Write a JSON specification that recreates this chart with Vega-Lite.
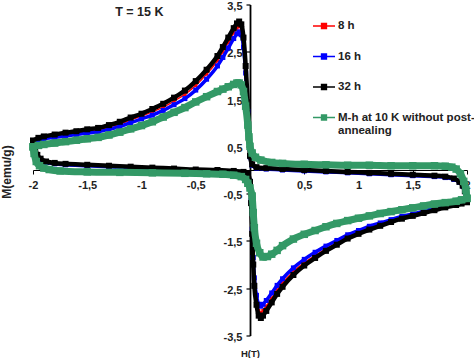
{
"$schema": "https://vega.github.io/schema/vega-lite/v6.json",
"width": 434, "height": 331,
"autosize": {"type": "none"},
"padding": {"left": 33, "top": 4.5, "right": 7, "bottom": 22.5},
"config": {"view": {"stroke": null}, "font": "Liberation Sans"},
"datasets": {
"note": [{"h": -1.02, "m": 3.34, "t": "T = 15 K"}],
"loops": [
{"s":"8 h","b":"d","h":-2,"m":0.6},{"s":"8 h","b":"d","h":-1.95,"m":0.65},{"s":"8 h","b":"d","h":-1.9,"m":0.68},{"s":"8 h","b":"d","h":-1.8,"m":0.72},{"s":"8 h","b":"d","h":-1.7,"m":0.76},{"s":"8 h","b":"d","h":-1.6,"m":0.79},{"s":"8 h","b":"d","h":-1.5,"m":0.82},{"s":"8 h","b":"d","h":-1.4,"m":0.85},{"s":"8 h","b":"d","h":-1.3,"m":0.91},{"s":"8 h","b":"d","h":-1.2,"m":0.97},{"s":"8 h","b":"d","h":-1.1,"m":1.06},{"s":"8 h","b":"d","h":-1,"m":1.14},{"s":"8 h","b":"d","h":-0.9,"m":1.23},{"s":"8 h","b":"d","h":-0.8,"m":1.33},{"s":"8 h","b":"d","h":-0.7,"m":1.46},{"s":"8 h","b":"d","h":-0.6,"m":1.6},{"s":"8 h","b":"d","h":-0.5,"m":1.79},{"s":"8 h","b":"d","h":-0.4,"m":2.03},{"s":"8 h","b":"d","h":-0.3,"m":2.31},{"s":"8 h","b":"d","h":-0.25,"m":2.5},{"s":"8 h","b":"d","h":-0.2,"m":2.7},{"s":"8 h","b":"d","h":-0.15,"m":2.9},{"s":"8 h","b":"d","h":-0.12,"m":3.0},{"s":"8 h","b":"d","h":-0.1,"m":3.04},{"s":"8 h","b":"d","h":-0.08,"m":2.98},{"s":"8 h","b":"d","h":-0.06,"m":2.71},{"s":"8 h","b":"d","h":-0.04,"m":2.13},{"s":"8 h","b":"d","h":-0.02,"m":1.3},{"s":"8 h","b":"d","h":-0.01,"m":0.72},{"s":"8 h","b":"d","h":0,"m":0.29},{"s":"8 h","b":"d","h":0.02,"m":0.11},{"s":"8 h","b":"d","h":0.06,"m":0.05},{"s":"8 h","b":"d","h":0.15,"m":0.03},{"s":"8 h","b":"d","h":0.3,"m":0.01},{"s":"8 h","b":"d","h":0.5,"m":-0.01},{"s":"8 h","b":"d","h":0.7,"m":-0.03},{"s":"8 h","b":"d","h":0.9,"m":-0.05},{"s":"8 h","b":"d","h":1.1,"m":-0.07},{"s":"8 h","b":"d","h":1.3,"m":-0.09},{"s":"8 h","b":"d","h":1.5,"m":-0.11},{"s":"8 h","b":"d","h":1.7,"m":-0.13},{"s":"8 h","b":"d","h":1.8,"m":-0.15},{"s":"8 h","b":"d","h":1.88,"m":-0.19},{"s":"8 h","b":"d","h":1.93,"m":-0.25},{"s":"8 h","b":"d","h":1.96,"m":-0.33},{"s":"8 h","b":"d","h":1.98,"m":-0.45},{"s":"8 h","b":"d","h":2,"m":-0.65},
{"s":"8 h","b":"u","h":-2,"m":0.6},{"s":"8 h","b":"u","h":-1.98,"m":0.43},{"s":"8 h","b":"u","h":-1.96,"m":0.31},{"s":"8 h","b":"u","h":-1.93,"m":0.23},{"s":"8 h","b":"u","h":-1.88,"m":0.17},{"s":"8 h","b":"u","h":-1.8,"m":0.14},{"s":"8 h","b":"u","h":-1.7,"m":0.12},{"s":"8 h","b":"u","h":-1.5,"m":0.1},{"s":"8 h","b":"u","h":-1.3,"m":0.08},{"s":"8 h","b":"u","h":-1.1,"m":0.06},{"s":"8 h","b":"u","h":-0.9,"m":0.04},{"s":"8 h","b":"u","h":-0.7,"m":0.02},{"s":"8 h","b":"u","h":-0.5,"m":0.0},{"s":"8 h","b":"u","h":-0.3,"m":-0.01},{"s":"8 h","b":"u","h":-0.15,"m":-0.03},{"s":"8 h","b":"u","h":-0.06,"m":-0.05},{"s":"8 h","b":"u","h":-0.02,"m":-0.09},{"s":"8 h","b":"u","h":0,"m":-0.25},{"s":"8 h","b":"u","h":0.01,"m":-0.68},{"s":"8 h","b":"u","h":0.02,"m":-1.3},{"s":"8 h","b":"u","h":0.03,"m":-1.93},{"s":"8 h","b":"u","h":0.04,"m":-2.37},{"s":"8 h","b":"u","h":0.06,"m":-2.76},{"s":"8 h","b":"u","h":0.08,"m":-2.97},{"s":"8 h","b":"u","h":0.1,"m":-3.02},{"s":"8 h","b":"u","h":0.12,"m":-2.97},{"s":"8 h","b":"u","h":0.15,"m":-2.88},{"s":"8 h","b":"u","h":0.2,"m":-2.71},{"s":"8 h","b":"u","h":0.25,"m":-2.54},{"s":"8 h","b":"u","h":0.3,"m":-2.39},{"s":"8 h","b":"u","h":0.4,"m":-2.15},{"s":"8 h","b":"u","h":0.5,"m":-1.96},{"s":"8 h","b":"u","h":0.6,"m":-1.81},{"s":"8 h","b":"u","h":0.7,"m":-1.67},{"s":"8 h","b":"u","h":0.8,"m":-1.54},{"s":"8 h","b":"u","h":0.9,"m":-1.41},{"s":"8 h","b":"u","h":1,"m":-1.32},{"s":"8 h","b":"u","h":1.1,"m":-1.23},{"s":"8 h","b":"u","h":1.2,"m":-1.15},{"s":"8 h","b":"u","h":1.3,"m":-1.08},{"s":"8 h","b":"u","h":1.4,"m":-1.01},{"s":"8 h","b":"u","h":1.5,"m":-0.95},{"s":"8 h","b":"u","h":1.6,"m":-0.89},{"s":"8 h","b":"u","h":1.7,"m":-0.83},{"s":"8 h","b":"u","h":1.8,"m":-0.78},{"s":"8 h","b":"u","h":1.9,"m":-0.73},{"s":"8 h","b":"u","h":1.95,"m":-0.7},{"s":"8 h","b":"u","h":2,"m":-0.65},
{"s":"16 h","b":"d","h":-2,"m":0.58},{"s":"16 h","b":"d","h":-1.95,"m":0.63},{"s":"16 h","b":"d","h":-1.9,"m":0.66},{"s":"16 h","b":"d","h":-1.8,"m":0.69},{"s":"16 h","b":"d","h":-1.7,"m":0.72},{"s":"16 h","b":"d","h":-1.6,"m":0.75},{"s":"16 h","b":"d","h":-1.5,"m":0.78},{"s":"16 h","b":"d","h":-1.4,"m":0.81},{"s":"16 h","b":"d","h":-1.3,"m":0.86},{"s":"16 h","b":"d","h":-1.2,"m":0.92},{"s":"16 h","b":"d","h":-1.1,"m":1.0},{"s":"16 h","b":"d","h":-1,"m":1.08},{"s":"16 h","b":"d","h":-0.9,"m":1.16},{"s":"16 h","b":"d","h":-0.8,"m":1.26},{"s":"16 h","b":"d","h":-0.7,"m":1.38},{"s":"16 h","b":"d","h":-0.6,"m":1.51},{"s":"16 h","b":"d","h":-0.5,"m":1.69},{"s":"16 h","b":"d","h":-0.4,"m":1.92},{"s":"16 h","b":"d","h":-0.3,"m":2.2},{"s":"16 h","b":"d","h":-0.25,"m":2.38},{"s":"16 h","b":"d","h":-0.2,"m":2.58},{"s":"16 h","b":"d","h":-0.15,"m":2.78},{"s":"16 h","b":"d","h":-0.12,"m":2.88},{"s":"16 h","b":"d","h":-0.1,"m":2.92},{"s":"16 h","b":"d","h":-0.08,"m":2.86},{"s":"16 h","b":"d","h":-0.06,"m":2.6},{"s":"16 h","b":"d","h":-0.04,"m":2.05},{"s":"16 h","b":"d","h":-0.02,"m":1.25},{"s":"16 h","b":"d","h":-0.01,"m":0.7},{"s":"16 h","b":"d","h":0,"m":0.28},{"s":"16 h","b":"d","h":0.02,"m":0.1},{"s":"16 h","b":"d","h":0.06,"m":0.04},{"s":"16 h","b":"d","h":0.15,"m":0.02},{"s":"16 h","b":"d","h":0.3,"m":0.0},{"s":"16 h","b":"d","h":0.5,"m":-0.02},{"s":"16 h","b":"d","h":0.7,"m":-0.04},{"s":"16 h","b":"d","h":0.9,"m":-0.06},{"s":"16 h","b":"d","h":1.1,"m":-0.08},{"s":"16 h","b":"d","h":1.3,"m":-0.1},{"s":"16 h","b":"d","h":1.5,"m":-0.12},{"s":"16 h","b":"d","h":1.7,"m":-0.14},{"s":"16 h","b":"d","h":1.8,"m":-0.16},{"s":"16 h","b":"d","h":1.88,"m":-0.2},{"s":"16 h","b":"d","h":1.93,"m":-0.26},{"s":"16 h","b":"d","h":1.96,"m":-0.34},{"s":"16 h","b":"d","h":1.98,"m":-0.45},{"s":"16 h","b":"d","h":2,"m":-0.62},
{"s":"16 h","b":"u","h":-2,"m":0.58},{"s":"16 h","b":"u","h":-1.98,"m":0.42},{"s":"16 h","b":"u","h":-1.96,"m":0.3},{"s":"16 h","b":"u","h":-1.93,"m":0.22},{"s":"16 h","b":"u","h":-1.88,"m":0.16},{"s":"16 h","b":"u","h":-1.8,"m":0.13},{"s":"16 h","b":"u","h":-1.7,"m":0.11},{"s":"16 h","b":"u","h":-1.5,"m":0.09},{"s":"16 h","b":"u","h":-1.3,"m":0.07},{"s":"16 h","b":"u","h":-1.1,"m":0.05},{"s":"16 h","b":"u","h":-0.9,"m":0.03},{"s":"16 h","b":"u","h":-0.7,"m":0.01},{"s":"16 h","b":"u","h":-0.5,"m":-0.01},{"s":"16 h","b":"u","h":-0.3,"m":-0.02},{"s":"16 h","b":"u","h":-0.15,"m":-0.04},{"s":"16 h","b":"u","h":-0.06,"m":-0.06},{"s":"16 h","b":"u","h":-0.02,"m":-0.1},{"s":"16 h","b":"u","h":0,"m":-0.24},{"s":"16 h","b":"u","h":0.01,"m":-0.65},{"s":"16 h","b":"u","h":0.02,"m":-1.25},{"s":"16 h","b":"u","h":0.03,"m":-1.85},{"s":"16 h","b":"u","h":0.04,"m":-2.28},{"s":"16 h","b":"u","h":0.06,"m":-2.65},{"s":"16 h","b":"u","h":0.08,"m":-2.84},{"s":"16 h","b":"u","h":0.1,"m":-2.88},{"s":"16 h","b":"u","h":0.12,"m":-2.84},{"s":"16 h","b":"u","h":0.15,"m":-2.76},{"s":"16 h","b":"u","h":0.2,"m":-2.6},{"s":"16 h","b":"u","h":0.25,"m":-2.44},{"s":"16 h","b":"u","h":0.3,"m":-2.3},{"s":"16 h","b":"u","h":0.4,"m":-2.07},{"s":"16 h","b":"u","h":0.5,"m":-1.89},{"s":"16 h","b":"u","h":0.6,"m":-1.74},{"s":"16 h","b":"u","h":0.7,"m":-1.61},{"s":"16 h","b":"u","h":0.8,"m":-1.49},{"s":"16 h","b":"u","h":0.9,"m":-1.37},{"s":"16 h","b":"u","h":1,"m":-1.28},{"s":"16 h","b":"u","h":1.1,"m":-1.19},{"s":"16 h","b":"u","h":1.2,"m":-1.12},{"s":"16 h","b":"u","h":1.3,"m":-1.05},{"s":"16 h","b":"u","h":1.4,"m":-0.98},{"s":"16 h","b":"u","h":1.5,"m":-0.93},{"s":"16 h","b":"u","h":1.6,"m":-0.87},{"s":"16 h","b":"u","h":1.7,"m":-0.81},{"s":"16 h","b":"u","h":1.8,"m":-0.76},{"s":"16 h","b":"u","h":1.9,"m":-0.71},{"s":"16 h","b":"u","h":1.95,"m":-0.68},{"s":"16 h","b":"u","h":2,"m":-0.62},
{"s":"32 h","b":"d","h":-2,"m":0.62},{"s":"32 h","b":"d","h":-1.95,"m":0.68},{"s":"32 h","b":"d","h":-1.9,"m":0.71},{"s":"32 h","b":"d","h":-1.8,"m":0.75},{"s":"32 h","b":"d","h":-1.7,"m":0.79},{"s":"32 h","b":"d","h":-1.6,"m":0.82},{"s":"32 h","b":"d","h":-1.5,"m":0.86},{"s":"32 h","b":"d","h":-1.4,"m":0.89},{"s":"32 h","b":"d","h":-1.3,"m":0.95},{"s":"32 h","b":"d","h":-1.2,"m":1.02},{"s":"32 h","b":"d","h":-1.1,"m":1.11},{"s":"32 h","b":"d","h":-1,"m":1.19},{"s":"32 h","b":"d","h":-0.9,"m":1.29},{"s":"32 h","b":"d","h":-0.8,"m":1.4},{"s":"32 h","b":"d","h":-0.7,"m":1.53},{"s":"32 h","b":"d","h":-0.6,"m":1.68},{"s":"32 h","b":"d","h":-0.5,"m":1.88},{"s":"32 h","b":"d","h":-0.4,"m":2.12},{"s":"32 h","b":"d","h":-0.3,"m":2.41},{"s":"32 h","b":"d","h":-0.25,"m":2.6},{"s":"32 h","b":"d","h":-0.2,"m":2.8},{"s":"32 h","b":"d","h":-0.15,"m":3.0},{"s":"32 h","b":"d","h":-0.12,"m":3.1},{"s":"32 h","b":"d","h":-0.1,"m":3.14},{"s":"32 h","b":"d","h":-0.08,"m":3.08},{"s":"32 h","b":"d","h":-0.06,"m":2.8},{"s":"32 h","b":"d","h":-0.04,"m":2.2},{"s":"32 h","b":"d","h":-0.02,"m":1.35},{"s":"32 h","b":"d","h":-0.01,"m":0.75},{"s":"32 h","b":"d","h":0,"m":0.3},{"s":"32 h","b":"d","h":0.02,"m":0.12},{"s":"32 h","b":"d","h":0.06,"m":0.06},{"s":"32 h","b":"d","h":0.15,"m":0.04},{"s":"32 h","b":"d","h":0.3,"m":0.02},{"s":"32 h","b":"d","h":0.5,"m":0.0},{"s":"32 h","b":"d","h":0.7,"m":-0.02},{"s":"32 h","b":"d","h":0.9,"m":-0.04},{"s":"32 h","b":"d","h":1.1,"m":-0.06},{"s":"32 h","b":"d","h":1.3,"m":-0.08},{"s":"32 h","b":"d","h":1.5,"m":-0.1},{"s":"32 h","b":"d","h":1.7,"m":-0.12},{"s":"32 h","b":"d","h":1.8,"m":-0.14},{"s":"32 h","b":"d","h":1.88,"m":-0.18},{"s":"32 h","b":"d","h":1.93,"m":-0.25},{"s":"32 h","b":"d","h":1.96,"m":-0.33},{"s":"32 h","b":"d","h":1.98,"m":-0.45},{"s":"32 h","b":"d","h":2,"m":-0.68},
{"s":"32 h","b":"u","h":-2,"m":0.62},{"s":"32 h","b":"u","h":-1.98,"m":0.45},{"s":"32 h","b":"u","h":-1.96,"m":0.32},{"s":"32 h","b":"u","h":-1.93,"m":0.24},{"s":"32 h","b":"u","h":-1.88,"m":0.18},{"s":"32 h","b":"u","h":-1.8,"m":0.15},{"s":"32 h","b":"u","h":-1.7,"m":0.13},{"s":"32 h","b":"u","h":-1.5,"m":0.11},{"s":"32 h","b":"u","h":-1.3,"m":0.09},{"s":"32 h","b":"u","h":-1.1,"m":0.07},{"s":"32 h","b":"u","h":-0.9,"m":0.05},{"s":"32 h","b":"u","h":-0.7,"m":0.03},{"s":"32 h","b":"u","h":-0.5,"m":0.01},{"s":"32 h","b":"u","h":-0.3,"m":0.0},{"s":"32 h","b":"u","h":-0.15,"m":-0.02},{"s":"32 h","b":"u","h":-0.06,"m":-0.04},{"s":"32 h","b":"u","h":-0.02,"m":-0.08},{"s":"32 h","b":"u","h":0,"m":-0.25},{"s":"32 h","b":"u","h":0.01,"m":-0.7},{"s":"32 h","b":"u","h":0.02,"m":-1.35},{"s":"32 h","b":"u","h":0.03,"m":-2.0},{"s":"32 h","b":"u","h":0.04,"m":-2.45},{"s":"32 h","b":"u","h":0.06,"m":-2.85},{"s":"32 h","b":"u","h":0.08,"m":-3.08},{"s":"32 h","b":"u","h":0.1,"m":-3.13},{"s":"32 h","b":"u","h":0.12,"m":-3.08},{"s":"32 h","b":"u","h":0.15,"m":-2.98},{"s":"32 h","b":"u","h":0.2,"m":-2.8},{"s":"32 h","b":"u","h":0.25,"m":-2.62},{"s":"32 h","b":"u","h":0.3,"m":-2.47},{"s":"32 h","b":"u","h":0.4,"m":-2.22},{"s":"32 h","b":"u","h":0.5,"m":-2.02},{"s":"32 h","b":"u","h":0.6,"m":-1.86},{"s":"32 h","b":"u","h":0.7,"m":-1.71},{"s":"32 h","b":"u","h":0.8,"m":-1.58},{"s":"32 h","b":"u","h":0.9,"m":-1.45},{"s":"32 h","b":"u","h":1,"m":-1.35},{"s":"32 h","b":"u","h":1.1,"m":-1.26},{"s":"32 h","b":"u","h":1.2,"m":-1.18},{"s":"32 h","b":"u","h":1.3,"m":-1.1},{"s":"32 h","b":"u","h":1.4,"m":-1.03},{"s":"32 h","b":"u","h":1.5,"m":-0.97},{"s":"32 h","b":"u","h":1.6,"m":-0.91},{"s":"32 h","b":"u","h":1.7,"m":-0.85},{"s":"32 h","b":"u","h":1.8,"m":-0.79},{"s":"32 h","b":"u","h":1.9,"m":-0.74},{"s":"32 h","b":"u","h":1.95,"m":-0.71},{"s":"32 h","b":"u","h":2,"m":-0.68},
{"s":"M-h at 10 K without post-annealing","b":"d","h":-2,"m":0.49},{"s":"M-h at 10 K without post-annealing","b":"d","h":-1.95,"m":0.52},{"s":"M-h at 10 K without post-annealing","b":"d","h":-1.9,"m":0.54},{"s":"M-h at 10 K without post-annealing","b":"d","h":-1.8,"m":0.57},{"s":"M-h at 10 K without post-annealing","b":"d","h":-1.7,"m":0.6},{"s":"M-h at 10 K without post-annealing","b":"d","h":-1.6,"m":0.63},{"s":"M-h at 10 K without post-annealing","b":"d","h":-1.5,"m":0.66},{"s":"M-h at 10 K without post-annealing","b":"d","h":-1.4,"m":0.69},{"s":"M-h at 10 K without post-annealing","b":"d","h":-1.3,"m":0.74},{"s":"M-h at 10 K without post-annealing","b":"d","h":-1.2,"m":0.8},{"s":"M-h at 10 K without post-annealing","b":"d","h":-1.1,"m":0.87},{"s":"M-h at 10 K without post-annealing","b":"d","h":-1,"m":0.94},{"s":"M-h at 10 K without post-annealing","b":"d","h":-0.9,"m":1.02},{"s":"M-h at 10 K without post-annealing","b":"d","h":-0.8,"m":1.12},{"s":"M-h at 10 K without post-annealing","b":"d","h":-0.7,"m":1.22},{"s":"M-h at 10 K without post-annealing","b":"d","h":-0.6,"m":1.32},{"s":"M-h at 10 K without post-annealing","b":"d","h":-0.5,"m":1.44},{"s":"M-h at 10 K without post-annealing","b":"d","h":-0.4,"m":1.55},{"s":"M-h at 10 K without post-annealing","b":"d","h":-0.3,"m":1.66},{"s":"M-h at 10 K without post-annealing","b":"d","h":-0.25,"m":1.71},{"s":"M-h at 10 K without post-annealing","b":"d","h":-0.2,"m":1.76},{"s":"M-h at 10 K without post-annealing","b":"d","h":-0.15,"m":1.81},{"s":"M-h at 10 K without post-annealing","b":"d","h":-0.12,"m":1.84},{"s":"M-h at 10 K without post-annealing","b":"d","h":-0.1,"m":1.84},{"s":"M-h at 10 K without post-annealing","b":"d","h":-0.08,"m":1.8},{"s":"M-h at 10 K without post-annealing","b":"d","h":-0.06,"m":1.66},{"s":"M-h at 10 K without post-annealing","b":"d","h":-0.04,"m":1.35},{"s":"M-h at 10 K without post-annealing","b":"d","h":-0.02,"m":0.95},{"s":"M-h at 10 K without post-annealing","b":"d","h":-0.01,"m":0.7},{"s":"M-h at 10 K without post-annealing","b":"d","h":0,"m":0.5},{"s":"M-h at 10 K without post-annealing","b":"d","h":0.02,"m":0.36},{"s":"M-h at 10 K without post-annealing","b":"d","h":0.05,"m":0.27},{"s":"M-h at 10 K without post-annealing","b":"d","h":0.1,"m":0.21},{"s":"M-h at 10 K without post-annealing","b":"d","h":0.2,"m":0.16},{"s":"M-h at 10 K without post-annealing","b":"d","h":0.3,"m":0.14},{"s":"M-h at 10 K without post-annealing","b":"d","h":0.5,"m":0.12},{"s":"M-h at 10 K without post-annealing","b":"d","h":0.7,"m":0.11},{"s":"M-h at 10 K without post-annealing","b":"d","h":0.9,"m":0.1},{"s":"M-h at 10 K without post-annealing","b":"d","h":1.1,"m":0.1},{"s":"M-h at 10 K without post-annealing","b":"d","h":1.3,"m":0.09},{"s":"M-h at 10 K without post-annealing","b":"d","h":1.5,"m":0.09},{"s":"M-h at 10 K without post-annealing","b":"d","h":1.7,"m":0.09},{"s":"M-h at 10 K without post-annealing","b":"d","h":1.8,"m":0.08},{"s":"M-h at 10 K without post-annealing","b":"d","h":1.86,"m":0.06},{"s":"M-h at 10 K without post-annealing","b":"d","h":1.9,"m":0.02},{"s":"M-h at 10 K without post-annealing","b":"d","h":1.94,"m":-0.08},{"s":"M-h at 10 K without post-annealing","b":"d","h":1.97,"m":-0.24},{"s":"M-h at 10 K without post-annealing","b":"d","h":1.99,"m":-0.42},{"s":"M-h at 10 K without post-annealing","b":"d","h":2,"m":-0.6},
{"s":"M-h at 10 K without post-annealing","b":"u","h":-2,"m":0.49},{"s":"M-h at 10 K without post-annealing","b":"u","h":-1.99,"m":0.35},{"s":"M-h at 10 K without post-annealing","b":"u","h":-1.97,"m":0.18},{"s":"M-h at 10 K without post-annealing","b":"u","h":-1.94,"m":0.09},{"s":"M-h at 10 K without post-annealing","b":"u","h":-1.9,"m":0.04},{"s":"M-h at 10 K without post-annealing","b":"u","h":-1.85,"m":0.01},{"s":"M-h at 10 K without post-annealing","b":"u","h":-1.75,"m":-0.02},{"s":"M-h at 10 K without post-annealing","b":"u","h":-1.5,"m":-0.04},{"s":"M-h at 10 K without post-annealing","b":"u","h":-1.2,"m":-0.05},{"s":"M-h at 10 K without post-annealing","b":"u","h":-0.9,"m":-0.06},{"s":"M-h at 10 K without post-annealing","b":"u","h":-0.6,"m":-0.07},{"s":"M-h at 10 K without post-annealing","b":"u","h":-0.4,"m":-0.08},{"s":"M-h at 10 K without post-annealing","b":"u","h":-0.25,"m":-0.09},{"s":"M-h at 10 K without post-annealing","b":"u","h":-0.15,"m":-0.11},{"s":"M-h at 10 K without post-annealing","b":"u","h":-0.08,"m":-0.14},{"s":"M-h at 10 K without post-annealing","b":"u","h":-0.04,"m":-0.2},{"s":"M-h at 10 K without post-annealing","b":"u","h":-0.02,"m":-0.28},{"s":"M-h at 10 K without post-annealing","b":"u","h":0,"m":-0.38},{"s":"M-h at 10 K without post-annealing","b":"u","h":0.02,"m":-0.55},{"s":"M-h at 10 K without post-annealing","b":"u","h":0.03,"m":-0.9},{"s":"M-h at 10 K without post-annealing","b":"u","h":0.04,"m":-1.22},{"s":"M-h at 10 K without post-annealing","b":"u","h":0.06,"m":-1.55},{"s":"M-h at 10 K without post-annealing","b":"u","h":0.09,"m":-1.75},{"s":"M-h at 10 K without post-annealing","b":"u","h":0.12,"m":-1.84},{"s":"M-h at 10 K without post-annealing","b":"u","h":0.16,"m":-1.83},{"s":"M-h at 10 K without post-annealing","b":"u","h":0.2,"m":-1.78},{"s":"M-h at 10 K without post-annealing","b":"u","h":0.25,"m":-1.7},{"s":"M-h at 10 K without post-annealing","b":"u","h":0.3,"m":-1.6},{"s":"M-h at 10 K without post-annealing","b":"u","h":0.4,"m":-1.46},{"s":"M-h at 10 K without post-annealing","b":"u","h":0.5,"m":-1.36},{"s":"M-h at 10 K without post-annealing","b":"u","h":0.6,"m":-1.28},{"s":"M-h at 10 K without post-annealing","b":"u","h":0.7,"m":-1.2},{"s":"M-h at 10 K without post-annealing","b":"u","h":0.8,"m":-1.13},{"s":"M-h at 10 K without post-annealing","b":"u","h":0.9,"m":-1.07},{"s":"M-h at 10 K without post-annealing","b":"u","h":1,"m":-1.02},{"s":"M-h at 10 K without post-annealing","b":"u","h":1.1,"m":-0.97},{"s":"M-h at 10 K without post-annealing","b":"u","h":1.2,"m":-0.92},{"s":"M-h at 10 K without post-annealing","b":"u","h":1.3,"m":-0.88},{"s":"M-h at 10 K without post-annealing","b":"u","h":1.4,"m":-0.84},{"s":"M-h at 10 K without post-annealing","b":"u","h":1.5,"m":-0.8},{"s":"M-h at 10 K without post-annealing","b":"u","h":1.6,"m":-0.76},{"s":"M-h at 10 K without post-annealing","b":"u","h":1.7,"m":-0.72},{"s":"M-h at 10 K without post-annealing","b":"u","h":1.8,"m":-0.69},{"s":"M-h at 10 K without post-annealing","b":"u","h":1.9,"m":-0.66},{"s":"M-h at 10 K without post-annealing","b":"u","h":1.95,"m":-0.63},{"s":"M-h at 10 K without post-annealing","b":"u","h":2,"m":-0.6}
]},
"encoding": {
"x": {"field": "h", "type": "quantitative", "scale": {"domain": [-2, 2], "nice": false, "zero": false},
 "axis": {"title": "H(T)", "offset": -165.5, "values": [-2, -1.5, -1, -0.5, 0.5, 1, 1.5, 2],
  "labelExpr": "replace(toString(datum.value), '.', ',')", "grid": false,
  "domainColor": "#000", "domainWidth": 1.2, "tickColor": "#000", "tickSize": 4, "tickWidth": 1,
  "labelFont": "Liberation Sans", "labelFontWeight": "bold", "labelFontSize": 11, "labelColor": "#222", "labelPadding": 5,
  "labelFlush": false, "labelOverlap": false, "labelBound": false,
  "titleFont": "Liberation Sans", "titleFontWeight": "bold", "titleFontSize": 9.5, "titleColor": "#222",
  "titleX": 217, "titleY": 183, "titleAlign": "center", "titleBaseline": "middle", "titleAngle": 0}},
"y": {"field": "m", "type": "quantitative", "scale": {"domain": [-3.5, 3.5], "nice": false, "zero": false},
 "axis": {"title": "M(emu/g)", "offset": -217, "values": [-3.5, -2.5, -1.5, -0.5, 0.5, 1.5, 2.5, 3.5],
  "labelExpr": "replace(toString(datum.value), '.', ',')", "grid": false,
  "domainColor": "#000", "domainWidth": 1.8, "tickColor": "#000", "tickSize": 4, "tickWidth": 1.2,
  "labelFont": "Liberation Sans", "labelFontWeight": "bold", "labelFontSize": 11, "labelColor": "#222", "labelPadding": 4,
  "labelOffset": 2,
  "labelFlush": false, "labelOverlap": false, "labelBound": false,
  "titleFont": "Liberation Sans", "titleFontWeight": "bold", "titleFontSize": 12, "titleColor": "#222",
  "titleX": -244, "titleY": 167, "titleAlign": "center", "titleBaseline": "middle", "titleAngle": 270}},
"color": {"field": "s", "type": "nominal",
 "scale": {"domain": ["8 h", "16 h", "32 h", "M-h at 10 K without post-annealing"], "range": ["#ff0000", "#0000ff", "#000000", "#339966"]},
 "legend": {"orient": "none", "legendX": 279, "legendY": 9.5, "title": null, "padding": 0,
  "symbolType": "M-1,0H1M-0.22,-0.22H0.22V0.22H-0.22Z", "symbolSize": 484, "symbolStrokeWidth": 1.5,
  "labelFont": "Liberation Sans", "labelFontWeight": "bold", "labelFontSize": 11.5, "labelColor": "#222",
  "labelOffset": 2, "rowPadding": 12.5, "labelLimit": 300,
  "labelExpr": "datum.label == 'M-h at 10 K without post-annealing' ? ['M-h at 10 K without post-', 'annealing'] : datum.label",
  "encode": {"symbols": {"update": {"fill": {"scale": "color", "field": "value"}, "stroke": {"scale": "color", "field": "value"}, "opacity": {"value": 1}}}}}}
},
"layer": [
{"data": {"name": "loops"}, "transform": [{"filter": "datum.s === '8 h'"}],
 "mark": {"type": "line", "strokeWidth": 1.5, "interpolate": "monotone", "point": {"shape": "square", "filled": true, "size": 12, "opacity": 1}},
 "encoding": {"detail": {"field": "b"}}},
{"data": {"name": "loops"}, "transform": [{"filter": "datum.s === '16 h'"}],
 "mark": {"type": "line", "strokeWidth": 3.5, "interpolate": "monotone", "point": {"shape": "square", "filled": true, "size": 25, "opacity": 1}},
 "encoding": {"detail": {"field": "b"}}},
{"data": {"name": "loops"}, "transform": [{"filter": "datum.s === '32 h'"}],
 "mark": {"type": "line", "strokeWidth": 4.5, "interpolate": "monotone", "point": {"shape": "square", "filled": true, "size": 36, "opacity": 1}},
 "encoding": {"detail": {"field": "b"}}},
{"data": {"name": "loops"}, "transform": [{"filter": "datum.s === 'M-h at 10 K without post-annealing'"}],
 "mark": {"type": "line", "strokeWidth": 7, "interpolate": "monotone", "point": {"shape": "square", "filled": true, "size": 56, "opacity": 1}},
 "encoding": {"detail": {"field": "b"}}},
{"data": {"name": "note"},
 "mark": {"type": "text", "font": "Liberation Sans", "fontWeight": "bold", "fontSize": 12.5, "align": "center", "baseline": "middle"},
 "encoding": {"text": {"field": "t"}, "color": {"value": "#222"}}}
]
}
